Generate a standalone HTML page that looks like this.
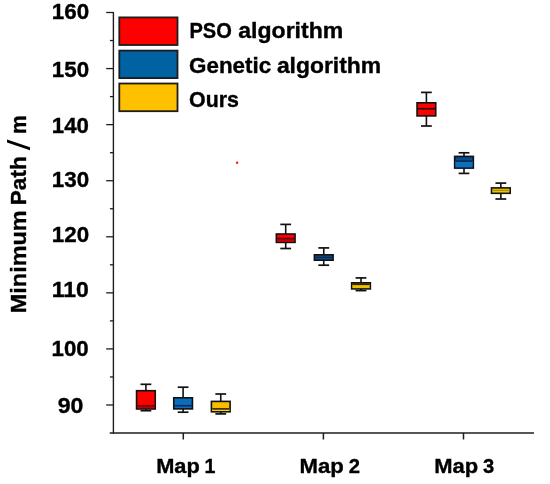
<!DOCTYPE html>
<html><head><meta charset="utf-8"><title>Minimum Path box plot</title>
<style>html,body{margin:0;padding:0;background:#fff;width:550px;height:484px;overflow:hidden}svg{display:block}</style>
</head><body>
<svg width="550" height="484" viewBox="0 0 550 484">
<line x1="113.40" y1="11.90" x2="113.40" y2="433.70" stroke="#1e1e1e" stroke-width="1.4"/>
<line x1="109.7" y1="433.00" x2="534" y2="433.00" stroke="#1e1e1e" stroke-width="1.6"/>
<line x1="106.2" y1="12.50" x2="113.40" y2="12.50" stroke="#1e1e1e" stroke-width="1.3"/>
<line x1="106.2" y1="68.57" x2="113.40" y2="68.57" stroke="#1e1e1e" stroke-width="1.3"/>
<line x1="106.2" y1="124.64" x2="113.40" y2="124.64" stroke="#1e1e1e" stroke-width="1.3"/>
<line x1="106.2" y1="180.71" x2="113.40" y2="180.71" stroke="#1e1e1e" stroke-width="1.3"/>
<line x1="106.2" y1="236.78" x2="113.40" y2="236.78" stroke="#1e1e1e" stroke-width="1.3"/>
<line x1="106.2" y1="292.85" x2="113.40" y2="292.85" stroke="#1e1e1e" stroke-width="1.3"/>
<line x1="106.2" y1="348.92" x2="113.40" y2="348.92" stroke="#1e1e1e" stroke-width="1.3"/>
<line x1="106.2" y1="404.99" x2="113.40" y2="404.99" stroke="#1e1e1e" stroke-width="1.3"/>
<line x1="109.9" y1="40.53" x2="113.40" y2="40.53" stroke="#1e1e1e" stroke-width="1.3"/>
<line x1="109.9" y1="96.61" x2="113.40" y2="96.61" stroke="#1e1e1e" stroke-width="1.3"/>
<line x1="109.9" y1="152.68" x2="113.40" y2="152.68" stroke="#1e1e1e" stroke-width="1.3"/>
<line x1="109.9" y1="208.75" x2="113.40" y2="208.75" stroke="#1e1e1e" stroke-width="1.3"/>
<line x1="109.9" y1="264.81" x2="113.40" y2="264.81" stroke="#1e1e1e" stroke-width="1.3"/>
<line x1="109.9" y1="320.88" x2="113.40" y2="320.88" stroke="#1e1e1e" stroke-width="1.3"/>
<line x1="109.9" y1="376.96" x2="113.40" y2="376.96" stroke="#1e1e1e" stroke-width="1.3"/>
<line x1="183.3" y1="433.00" x2="183.3" y2="439.5" stroke="#1e1e1e" stroke-width="1.5"/>
<line x1="323.4" y1="433.00" x2="323.4" y2="439.5" stroke="#1e1e1e" stroke-width="1.5"/>
<line x1="463.5" y1="433.00" x2="463.5" y2="439.5" stroke="#1e1e1e" stroke-width="1.5"/>
<text x="189.50" y="38.00" font-size="21.5" textLength="42.30" lengthAdjust="spacingAndGlyphs" style="font-family:'Liberation Sans',sans-serif;font-weight:bold;stroke:#000;stroke-width:0.35px">PSO</text>
<text x="238.30" y="38.00" font-size="21.5" textLength="104.91" lengthAdjust="spacingAndGlyphs" style="font-family:'Liberation Sans',sans-serif;font-weight:bold;stroke:#000;stroke-width:0.35px">algorithm</text>
<text x="189.10" y="73.00" font-size="21.5" textLength="82.11" lengthAdjust="spacingAndGlyphs" style="font-family:'Liberation Sans',sans-serif;font-weight:bold;stroke:#000;stroke-width:0.35px">Genetic</text>
<text x="276.90" y="73.00" font-size="21.5" textLength="104.30" lengthAdjust="spacingAndGlyphs" style="font-family:'Liberation Sans',sans-serif;font-weight:bold;stroke:#000;stroke-width:0.35px">algorithm</text>
<text x="189.11" y="107.40" font-size="21.5" textLength="49.89" lengthAdjust="spacingAndGlyphs" style="font-family:'Liberation Sans',sans-serif;font-weight:bold;stroke:#000;stroke-width:0.35px">Ours</text>
<text x="156.20" y="472.80" font-size="21" textLength="43.60" lengthAdjust="spacingAndGlyphs" style="font-family:'Liberation Sans',sans-serif;font-weight:bold;stroke:#000;stroke-width:0.35px">Map</text>
<text x="204.58" y="472.80" font-size="21" textLength="10.94" lengthAdjust="spacingAndGlyphs" style="font-family:'Liberation Sans',sans-serif;font-weight:bold;stroke:#000;stroke-width:0.35px">1</text>
<text x="299.59" y="472.80" font-size="21" textLength="44.32" lengthAdjust="spacingAndGlyphs" style="font-family:'Liberation Sans',sans-serif;font-weight:bold;stroke:#000;stroke-width:0.35px">Map</text>
<text x="348.70" y="472.80" font-size="21" textLength="11.25" lengthAdjust="spacingAndGlyphs" style="font-family:'Liberation Sans',sans-serif;font-weight:bold;stroke:#000;stroke-width:0.35px">2</text>
<text x="434.30" y="472.80" font-size="21" textLength="43.91" lengthAdjust="spacingAndGlyphs" style="font-family:'Liberation Sans',sans-serif;font-weight:bold;stroke:#000;stroke-width:0.35px">Map</text>
<text x="483.00" y="472.80" font-size="21" textLength="11.25" lengthAdjust="spacingAndGlyphs" style="font-family:'Liberation Sans',sans-serif;font-weight:bold;stroke:#000;stroke-width:0.35px">3</text>
<text x="51.79" y="18.95" font-size="21.5" textLength="37.32" lengthAdjust="spacingAndGlyphs" style="font-family:'Liberation Sans',sans-serif;font-weight:bold;stroke:#000;stroke-width:0.35px">160</text>
<text x="51.79" y="77.20" font-size="21.5" textLength="37.32" lengthAdjust="spacingAndGlyphs" style="font-family:'Liberation Sans',sans-serif;font-weight:bold;stroke:#000;stroke-width:0.35px">150</text>
<text x="51.81" y="132.70" font-size="21.5" textLength="37.09" lengthAdjust="spacingAndGlyphs" style="font-family:'Liberation Sans',sans-serif;font-weight:bold;stroke:#000;stroke-width:0.35px">140</text>
<text x="51.79" y="186.70" font-size="21.5" textLength="37.32" lengthAdjust="spacingAndGlyphs" style="font-family:'Liberation Sans',sans-serif;font-weight:bold;stroke:#000;stroke-width:0.35px">130</text>
<text x="51.79" y="241.95" font-size="21.5" textLength="37.32" lengthAdjust="spacingAndGlyphs" style="font-family:'Liberation Sans',sans-serif;font-weight:bold;stroke:#000;stroke-width:0.35px">120</text>
<text x="51.81" y="297.25" font-size="21.5" textLength="37.09" lengthAdjust="spacingAndGlyphs" style="font-family:'Liberation Sans',sans-serif;font-weight:bold;stroke:#000;stroke-width:0.35px">110</text>
<text x="51.59" y="356.05" font-size="21.5" textLength="37.12" lengthAdjust="spacingAndGlyphs" style="font-family:'Liberation Sans',sans-serif;font-weight:bold;stroke:#000;stroke-width:0.35px">100</text>
<text x="57.70" y="412.70" font-size="21.5" textLength="25.71" lengthAdjust="spacingAndGlyphs" style="font-family:'Liberation Sans',sans-serif;font-weight:bold;stroke:#000;stroke-width:0.35px">90</text>
<text transform="rotate(-90)" x="-313.21" y="25.80" font-size="22.5" textLength="102.93" lengthAdjust="spacingAndGlyphs" style="font-family:'Liberation Sans',sans-serif;font-weight:bold;stroke:#000;stroke-width:0.35px">Minimum</text>
<text transform="rotate(-90)" x="-205.31" y="25.80" font-size="22.5" textLength="49.11" lengthAdjust="spacingAndGlyphs" style="font-family:'Liberation Sans',sans-serif;font-weight:bold;stroke:#000;stroke-width:0.35px">Path</text>
<text transform="rotate(-90)" x="-150.20" y="30.10" font-size="31.5" textLength="10.88" lengthAdjust="spacingAndGlyphs" style="font-family:'Liberation Sans',sans-serif;font-weight:normal">/</text>
<text transform="rotate(-90)" x="-134.01" y="25.80" font-size="22.5" textLength="18.71" lengthAdjust="spacingAndGlyphs" style="font-family:'Liberation Sans',sans-serif;font-weight:bold;stroke:#000;stroke-width:0.35px">m</text>
<rect x="119.30" y="17.40" width="58.20" height="27.60" fill="#ff0000" stroke="#1c1c1c" stroke-width="1.8"/>
<rect x="119.30" y="50.60" width="58.20" height="27.50" fill="#0061a3" stroke="#1c1c1c" stroke-width="1.8"/>
<rect x="119.30" y="83.50" width="58.20" height="27.70" fill="#ffc000" stroke="#1c1c1c" stroke-width="1.8"/>
<line x1="145.90" y1="384.30" x2="145.90" y2="410.70" stroke="#111" stroke-width="1.6"/>
<line x1="140.50" y1="384.30" x2="151.30" y2="384.30" stroke="#111" stroke-width="1.7"/>
<line x1="140.50" y1="410.70" x2="151.30" y2="410.70" stroke="#111" stroke-width="1.7"/>
<rect x="136.55" y="390.70" width="18.70" height="18.30" fill="#ff0000" stroke="#111" stroke-width="1.6"/>
<rect x="137.35" y="405.70" width="17.10" height="2.50" fill="#c00000"/>
<line x1="137.35" y1="405.70" x2="154.45" y2="405.70" stroke="#700000" stroke-width="1.6"/>
<line x1="183.10" y1="387.20" x2="183.10" y2="412.20" stroke="#111" stroke-width="1.6"/>
<line x1="177.70" y1="387.20" x2="188.50" y2="387.20" stroke="#111" stroke-width="1.7"/>
<line x1="177.70" y1="412.20" x2="188.50" y2="412.20" stroke="#111" stroke-width="1.7"/>
<rect x="173.75" y="397.80" width="18.70" height="11.10" fill="#0a6ebe" stroke="#111" stroke-width="1.6"/>
<line x1="174.55" y1="405.70" x2="191.65" y2="405.70" stroke="#0a2850" stroke-width="1.6"/>
<line x1="220.75" y1="394.00" x2="220.75" y2="413.90" stroke="#111" stroke-width="1.6"/>
<line x1="215.35" y1="394.00" x2="226.15" y2="394.00" stroke="#111" stroke-width="1.7"/>
<line x1="215.35" y1="413.90" x2="226.15" y2="413.90" stroke="#111" stroke-width="1.7"/>
<rect x="211.40" y="401.40" width="18.70" height="10.40" fill="#f8bc00" stroke="#111" stroke-width="1.6"/>
<rect x="212.20" y="408.90" width="17.10" height="2.10" fill="#ffd400"/>
<line x1="212.20" y1="408.90" x2="229.30" y2="408.90" stroke="#302400" stroke-width="1.6"/>
<line x1="285.70" y1="224.40" x2="285.70" y2="248.50" stroke="#111" stroke-width="1.6"/>
<line x1="280.30" y1="224.40" x2="291.10" y2="224.40" stroke="#111" stroke-width="1.7"/>
<line x1="280.30" y1="248.50" x2="291.10" y2="248.50" stroke="#111" stroke-width="1.7"/>
<rect x="276.35" y="234.00" width="18.70" height="8.40" fill="#ff0000" stroke="#111" stroke-width="1.6"/>
<rect x="277.15" y="238.50" width="17.10" height="3.10" fill="#c80000"/>
<line x1="277.15" y1="238.50" x2="294.25" y2="238.50" stroke="#600000" stroke-width="1.6"/>
<line x1="323.75" y1="247.90" x2="323.75" y2="265.20" stroke="#111" stroke-width="1.6"/>
<line x1="318.35" y1="247.90" x2="329.15" y2="247.90" stroke="#111" stroke-width="1.7"/>
<line x1="318.35" y1="265.20" x2="329.15" y2="265.20" stroke="#111" stroke-width="1.7"/>
<rect x="314.40" y="254.80" width="18.70" height="5.40" fill="#0c5596" stroke="#111" stroke-width="1.6"/>
<line x1="315.20" y1="257.40" x2="332.30" y2="257.40" stroke="#0a2850" stroke-width="1.6"/>
<line x1="361.00" y1="277.90" x2="361.00" y2="290.60" stroke="#111" stroke-width="1.6"/>
<line x1="355.60" y1="277.90" x2="366.40" y2="277.90" stroke="#111" stroke-width="1.7"/>
<line x1="355.60" y1="290.60" x2="366.40" y2="290.60" stroke="#111" stroke-width="1.7"/>
<rect x="351.65" y="282.80" width="18.70" height="6.10" fill="#a07a00" stroke="#111" stroke-width="1.6"/>
<rect x="352.45" y="284.30" width="17.10" height="3.80" fill="#f0c000"/>
<line x1="352.45" y1="284.30" x2="369.55" y2="284.30" stroke="#302400" stroke-width="1.6"/>
<line x1="426.40" y1="92.40" x2="426.40" y2="126.00" stroke="#111" stroke-width="1.6"/>
<line x1="421.00" y1="92.40" x2="431.80" y2="92.40" stroke="#111" stroke-width="1.7"/>
<line x1="421.00" y1="126.00" x2="431.80" y2="126.00" stroke="#111" stroke-width="1.7"/>
<rect x="417.05" y="102.80" width="18.70" height="13.10" fill="#ff0000" stroke="#111" stroke-width="1.6"/>
<line x1="417.85" y1="108.70" x2="434.95" y2="108.70" stroke="#200000" stroke-width="1.6"/>
<line x1="464.00" y1="152.80" x2="464.00" y2="173.40" stroke="#111" stroke-width="1.6"/>
<line x1="458.60" y1="152.80" x2="469.40" y2="152.80" stroke="#111" stroke-width="1.7"/>
<line x1="458.60" y1="173.40" x2="469.40" y2="173.40" stroke="#111" stroke-width="1.7"/>
<rect x="454.65" y="156.40" width="18.70" height="11.70" fill="#0a4c8c" stroke="#111" stroke-width="1.6"/>
<rect x="455.45" y="161.10" width="17.10" height="6.20" fill="#0a70c0"/>
<line x1="455.45" y1="161.10" x2="472.55" y2="161.10" stroke="#0a2850" stroke-width="1.6"/>
<line x1="500.85" y1="183.10" x2="500.85" y2="199.00" stroke="#111" stroke-width="1.6"/>
<line x1="495.45" y1="183.10" x2="506.25" y2="183.10" stroke="#111" stroke-width="1.7"/>
<line x1="495.45" y1="199.00" x2="506.25" y2="199.00" stroke="#111" stroke-width="1.7"/>
<rect x="491.50" y="187.90" width="18.70" height="5.40" fill="#ffd000" stroke="#111" stroke-width="1.6"/>
<line x1="492.30" y1="190.40" x2="509.40" y2="190.40" stroke="#b08c00" stroke-width="1.6"/>
<circle cx="237.1" cy="162.7" r="1.25" fill="#ff1a1a"/>
</svg>
</body></html>
